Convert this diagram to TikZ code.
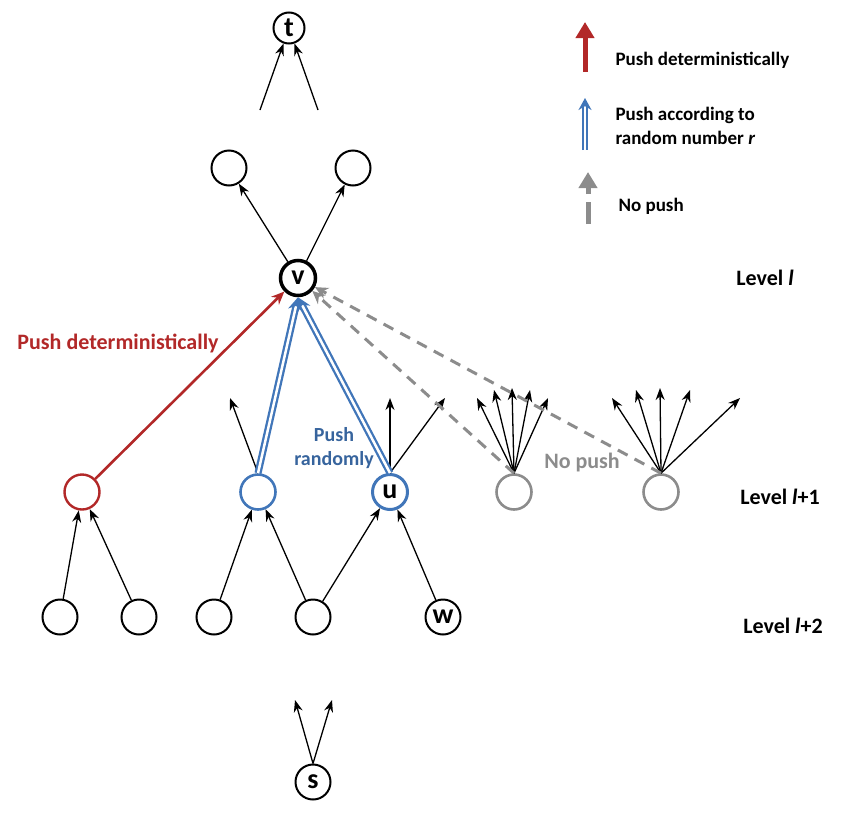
\documentclass[tikz,border=0pt]{standalone}
\usepackage{fontspec}
\setmainfont{Carlito}
\usetikzlibrary{arrows.meta}
\definecolor{pred}{RGB}{178,40,40}
\definecolor{pblue}{RGB}{65,118,185}
\definecolor{pgray}{RGB}{140,140,140}
\begin{document}
\begin{tikzpicture}[x=1pt,y=-1pt,
  nd/.style={circle,draw,line width=2pt,minimum size=35pt,inner sep=0pt,font=\bfseries\fontsize{28}{28}\selectfont},
  ar/.style={-{Stealth[length=12pt,width=9pt]},line width=1.3pt},
  lab/.style={font=\bfseries\fontsize{22}{25}\selectfont},
  leg/.style={font=\bfseries\fontsize{19}{24}\selectfont,anchor=west,align=left}]
\useasboundingbox (0,0) rectangle (842,814);
\node[nd,minimum size=31pt] (t) at (289,28) {t};
\node[nd] (a1) at (229,168) {};
\node[nd] (a2) at (353,168) {};
\node[nd,line width=3.5pt] (v) at (298,278) {v};
\node[nd,draw=pred,line width=2.4pt] (r) at (82,492) {};
\node[nd,draw=pblue,line width=2.6pt] (b) at (258,492) {};
\node[nd,draw=pblue,line width=3pt] (u) at (390,492) {u};
\node[nd,draw=pgray,line width=2.6pt] (g1) at (514,492) {};
\node[nd,draw=pgray,line width=2.6pt] (g2) at (661,492) {};
\node[nd] (c1) at (60,617) {};
\node[nd] (c2) at (139,617) {};
\node[nd] (c3) at (214,617) {};
\node[nd] (c4) at (313,617) {};
\node[nd] (w) at (443,617) {w};
\node[nd] (s) at (313,782) {s};
% free ends
\coordinate (t1) at (260,110); \coordinate (t2) at (318,110);
\draw[ar] (t1) -- (t); \draw[ar] (t2) -- (t);
\draw[ar] (v) -- (a1); \draw[ar] (v) -- (a2);
\draw[ar] (c1) -- (r); \draw[ar] (c2) -- (r);
\draw[ar] (c3) -- (b); \draw[ar] (c4) -- (b);
\draw[ar] (c4) -- (u); \draw[ar] (w) -- (u);
\coordinate (bf) at (230,398); \draw[ar] (b.north) -- (bf);
\coordinate (uf1) at (390,398); \coordinate (uf2) at (445,398);
\draw[ar] (u.north) -- (uf1); \draw[ar] (u.north) -- (uf2);
\foreach \x/\y [count=\i] in {477/398,494/390,512/388,530/390,548/398}
  {\coordinate (gf\i) at (\x,\y); \draw[ar] (g1.north) -- (gf\i);}
\foreach \x/\y [count=\i] in {612/398,636/390,660/388,690/390,740/398}
  {\coordinate (hf\i) at (\x,\y); \draw[ar] (g2.north) -- (hf\i);}
\coordinate (sf1) at (295,700); \coordinate (sf2) at (332,700);
\draw[ar] (s.north) -- (sf1); \draw[ar] (s.north) -- (sf2);
% pushes
\draw[pred,line width=2.6pt,-{Stealth[length=13pt,width=11pt]}] (r) -- (v);
\draw[pblue,double=white,double distance=2.5pt,line width=2.3pt,-{Stealth[length=13pt,width=14pt]}] (b.north) -- (v.south);
\draw[pblue,double=white,double distance=2.5pt,line width=2.3pt,-{Stealth[length=13pt,width=14pt]}] (u.north) -- (v.south);
\draw[pgray,dash pattern=on 11pt off 8pt,line width=3pt,-{Stealth[length=13pt,width=12pt]}] (g1.north) -- (v);
\draw[pgray,dash pattern=on 11pt off 8pt,line width=3pt,-{Stealth[length=13pt,width=12pt]}] (g2.north) -- (v);
\node[lab,text=pred] (l1) at (118,343) {Push deterministically};
\node[lab,text=pblue!85!black,align=center,font=\bfseries\fontsize{20}{24}\selectfont] (l2) at (334,448) {Push\\randomly};
\node[lab,text=pgray] (l3) at (582,463) {No push};
\node[lab] (lv1) at (765,278) {Level \textit{l}};
\node[lab] (lv2) at (780,497) {Level \textit{l}+1};
\node[lab] (lv3) at (783,626) {Level \textit{l}+2};
% legend
\coordinate (k1a) at (585,72); \coordinate (k1b) at (585,22);
\draw[pred,line width=5pt,-{Triangle[length=16pt,width=18pt]}] (k1a) -- (k1b);
\coordinate (k2a) at (585,150); \coordinate (k2b) at (585,98);
\draw[pblue,double=white,double distance=2.5pt,line width=1.8pt,-{Stealth[length=12pt,width=13pt]}] (k2a) -- (k2b);
\coordinate (k3a) at (588,224); \coordinate (k3b) at (588,172);
\draw[pgray,dash pattern=on 22pt off 8pt,line width=5pt,-{Triangle[length=16pt,width=18pt]}] (k3a) -- (k3b);
\node[leg] (k1) at (612,60) {Push deterministically};
\node[leg] (k2) at (612,126) {Push according to\\random number \textit{r}};
\node[leg] (k3) at (615,206) {No push};
\end{tikzpicture}
\end{document}
